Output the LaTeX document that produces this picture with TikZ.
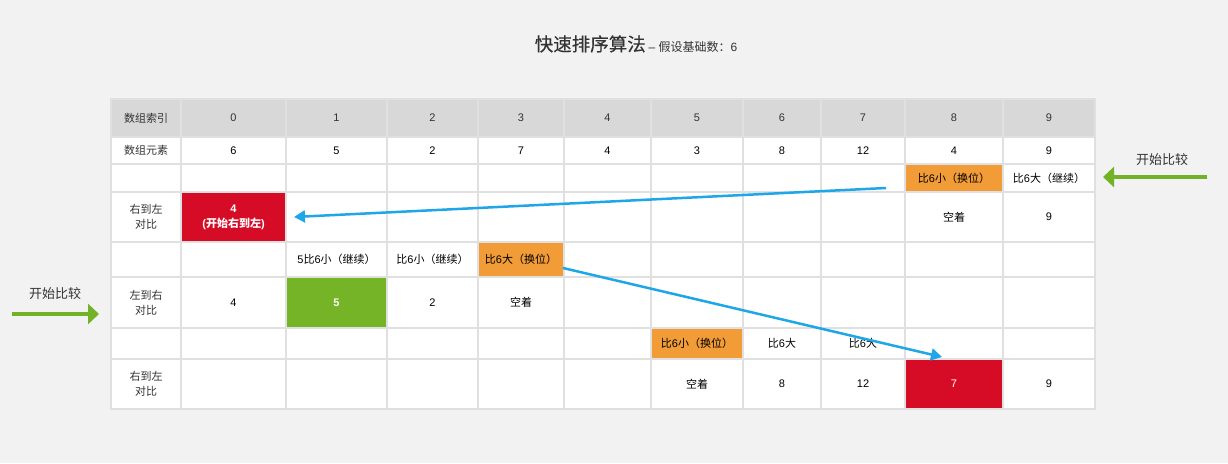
\documentclass[tikz,border=0pt]{standalone}
\usepackage{fontspec}
\setmainfont{Liberation Sans}
\newfontfamily\cjkf{Noto Sans CJK SC}
\newfontfamily\cjktitle[FakeBold=0.4]{Noto Sans CJK SC}
\newcommand\zh[1]{{\cjkf #1}}
\usetikzlibrary{arrows.meta}
\definecolor{bg}{HTML}{F2F2F2}
\definecolor{hdr}{HTML}{D8D8D8}
\definecolor{gridc}{HTML}{E0E0E0}
\definecolor{redc}{HTML}{D60C26}
\definecolor{orangec}{HTML}{F29C38}
\definecolor{greenc}{HTML}{74B426}
\definecolor{bluec}{HTML}{1EA6E8}
\definecolor{arrowgreen}{HTML}{72B226}
\definecolor{txtdark}{HTML}{333333}
\begin{document}
\begin{tikzpicture}[x=1pt,y=-1pt,
  cellbox/.style={draw=gridc, line width=1.5pt, rectangle, inner sep=0pt, outer sep=0pt},
  gridline/.style={draw=gridc, line width=1.5pt},
  txt/.style={font=\fontsize{11}{15}\selectfont, text=black, align=center, inner sep=0pt},
  htxt/.style={txt, text=txtdark},
  wtxt/.style={txt, text=white, font=\bfseries\fontsize{11}{15}\selectfont},
  side/.style={font=\cjkf\fontsize{13}{15}\selectfont, text=txtdark, inner sep=0pt},
  greenarrow/.style={draw=arrowgreen, line width=4pt, -{Triangle[length=11pt,width=20pt]}},
  bluearrow/.style={draw=bluec, line width=2.5pt, -{Triangle[length=11pt,width=12pt]}}
]
\useasboundingbox[fill=bg] (0,0) rectangle (1228,463);
\def\xs{{111,181,286,387,478,564,651,743,821,905,1003,1095}}
\def\ys{{99,137,164,192,242,277,328,359,409}}
\foreach \c in {0,...,10}{
  \foreach \r in {1,...,8}{
    \pgfmathsetmacro\xa{\xs[\c]}
    \pgfmathsetmacro\xb{\xs[\c+1]}
    \pgfmathsetmacro\ya{\ys[\r-1]}
    \pgfmathsetmacro\yb{\ys[\r]}
    \ifnum\r=1 \def\cf{hdr}\else\def\cf{white}\fi
    \node[cellbox, fill=\cf, minimum width={\xb-\xa}, minimum height={\yb-\ya}]
      (c\c-\r) at ({(\xa+\xb)/2},{(\ya+\yb)/2}) {};
  }
}
% coloured cells
\draw[gridline, fill=redc]    (c1-4.north west) rectangle (c1-4.south east);
\draw[gridline, fill=orangec] (c9-3.north west) rectangle (c9-3.south east);
\draw[gridline, fill=orangec] (c4-5.north west) rectangle (c4-5.south east);
\draw[gridline, fill=greenc]  (c2-6.north west) rectangle (c2-6.south east);
\draw[gridline, fill=orangec] (c6-7.north west) rectangle (c6-7.south east);
\draw[gridline, fill=redc]    (c9-8.north west) rectangle (c9-8.south east);

% header row
\node[htxt] (t0-1) at (c0-1) {\zh{数组索引}};
\foreach \c/\v in {1/0,2/1,3/2,4/3,5/4,6/5,7/6,8/7,9/8,10/9}
  \node[htxt] (t\c-1) at (c\c-1) {\v};
% element row
\node[htxt] (t0-2) at (c0-2) {\zh{数组元素}};
\foreach \c/\v in {1/6,2/5,3/2,4/7,5/4,6/3,7/8,8/12,9/4,10/9}
  \node[txt] (t\c-2) at (c\c-2) {\v};
% row 3
\node[txt] (t9-3) at (c9-3) {\zh{比}6\zh{小（换位）}};
\node[txt] (t10-3) at (c10-3) {\zh{比}6\zh{大（继续）}};
% row 4
\node[htxt] (t0-4) at (c0-4) {\zh{右到左}\\\zh{对比}};
\node[wtxt] (t1-4) at (c1-4) {4\\(\zh{开始右到左})};
\node[txt] (t9-4) at (c9-4) {\zh{空着}};
\node[txt] (t10-4) at (c10-4) {9};
% row 5
\node[txt] (t2-5) at (c2-5) {5\zh{比}6\zh{小（继续）}};
\node[txt] (t3-5) at (c3-5) {\zh{比}6\zh{小（继续）}};
\node[txt] (t4-5) at (c4-5) {\zh{比}6\zh{大（换位）}};
% row 6
\node[htxt] (t0-6) at (c0-6) {\zh{左到右}\\\zh{对比}};
\node[txt] (t1-6) at (c1-6) {4};
\node[wtxt] (t2-6) at (c2-6) {5};
\node[txt] (t3-6) at (c3-6) {2};
\node[txt] (t4-6) at (c4-6) {\zh{空着}};
% row 7
\node[txt] (t6-7) at (c6-7) {\zh{比}6\zh{小（换位）}};
\node[txt] (t7-7) at (c7-7) {\zh{比}6\zh{大}};
\node[txt] (t8-7) at (c8-7) {\zh{比}6\zh{大}};
% row 8
\node[htxt] (t0-8) at (c0-8) {\zh{右到左}\\\zh{对比}};
\node[txt] (t6-8) at (c6-8) {\zh{空着}};
\node[txt] (t7-8) at (c7-8) {8};
\node[txt] (t8-8) at (c8-8) {12};
\node[txt, text=white] (t9-8) at (c9-8) {7};
\node[txt] (t10-8) at (c10-8) {9};

% title
\node[anchor=base, inner sep=0pt, text=txtdark] (title) at (636,51)
  {{\cjktitle\fontsize{18.5}{20}\selectfont 快速排序算法}\ {\fontsize{12}{14}\selectfont –\ \zh{假设基础数：}6}};

% side labels and green arrows
\node[side] (lstart) at (55,294) {开始比较};
\coordinate (lg1) at (12,314);
\coordinate (lg2) at (99,314);
\draw[greenarrow] (lg1) -- (lg2);
\node[side] (rstart) at (1162,160) {开始比较};
\coordinate (rg1) at (1207,177);
\coordinate (rg2) at (1103,177);
\draw[greenarrow] (rg1) -- (rg2);

% blue arrows
\coordinate (b1s) at (886,188);
\coordinate (b1e) at (294,217);
\draw[bluearrow] (b1s) -- (b1e);
\coordinate (b2s) at (563,268);
\coordinate (b2e) at (942,357);
\draw[bluearrow] (b2s) -- (b2e);
\end{tikzpicture}
\end{document}
